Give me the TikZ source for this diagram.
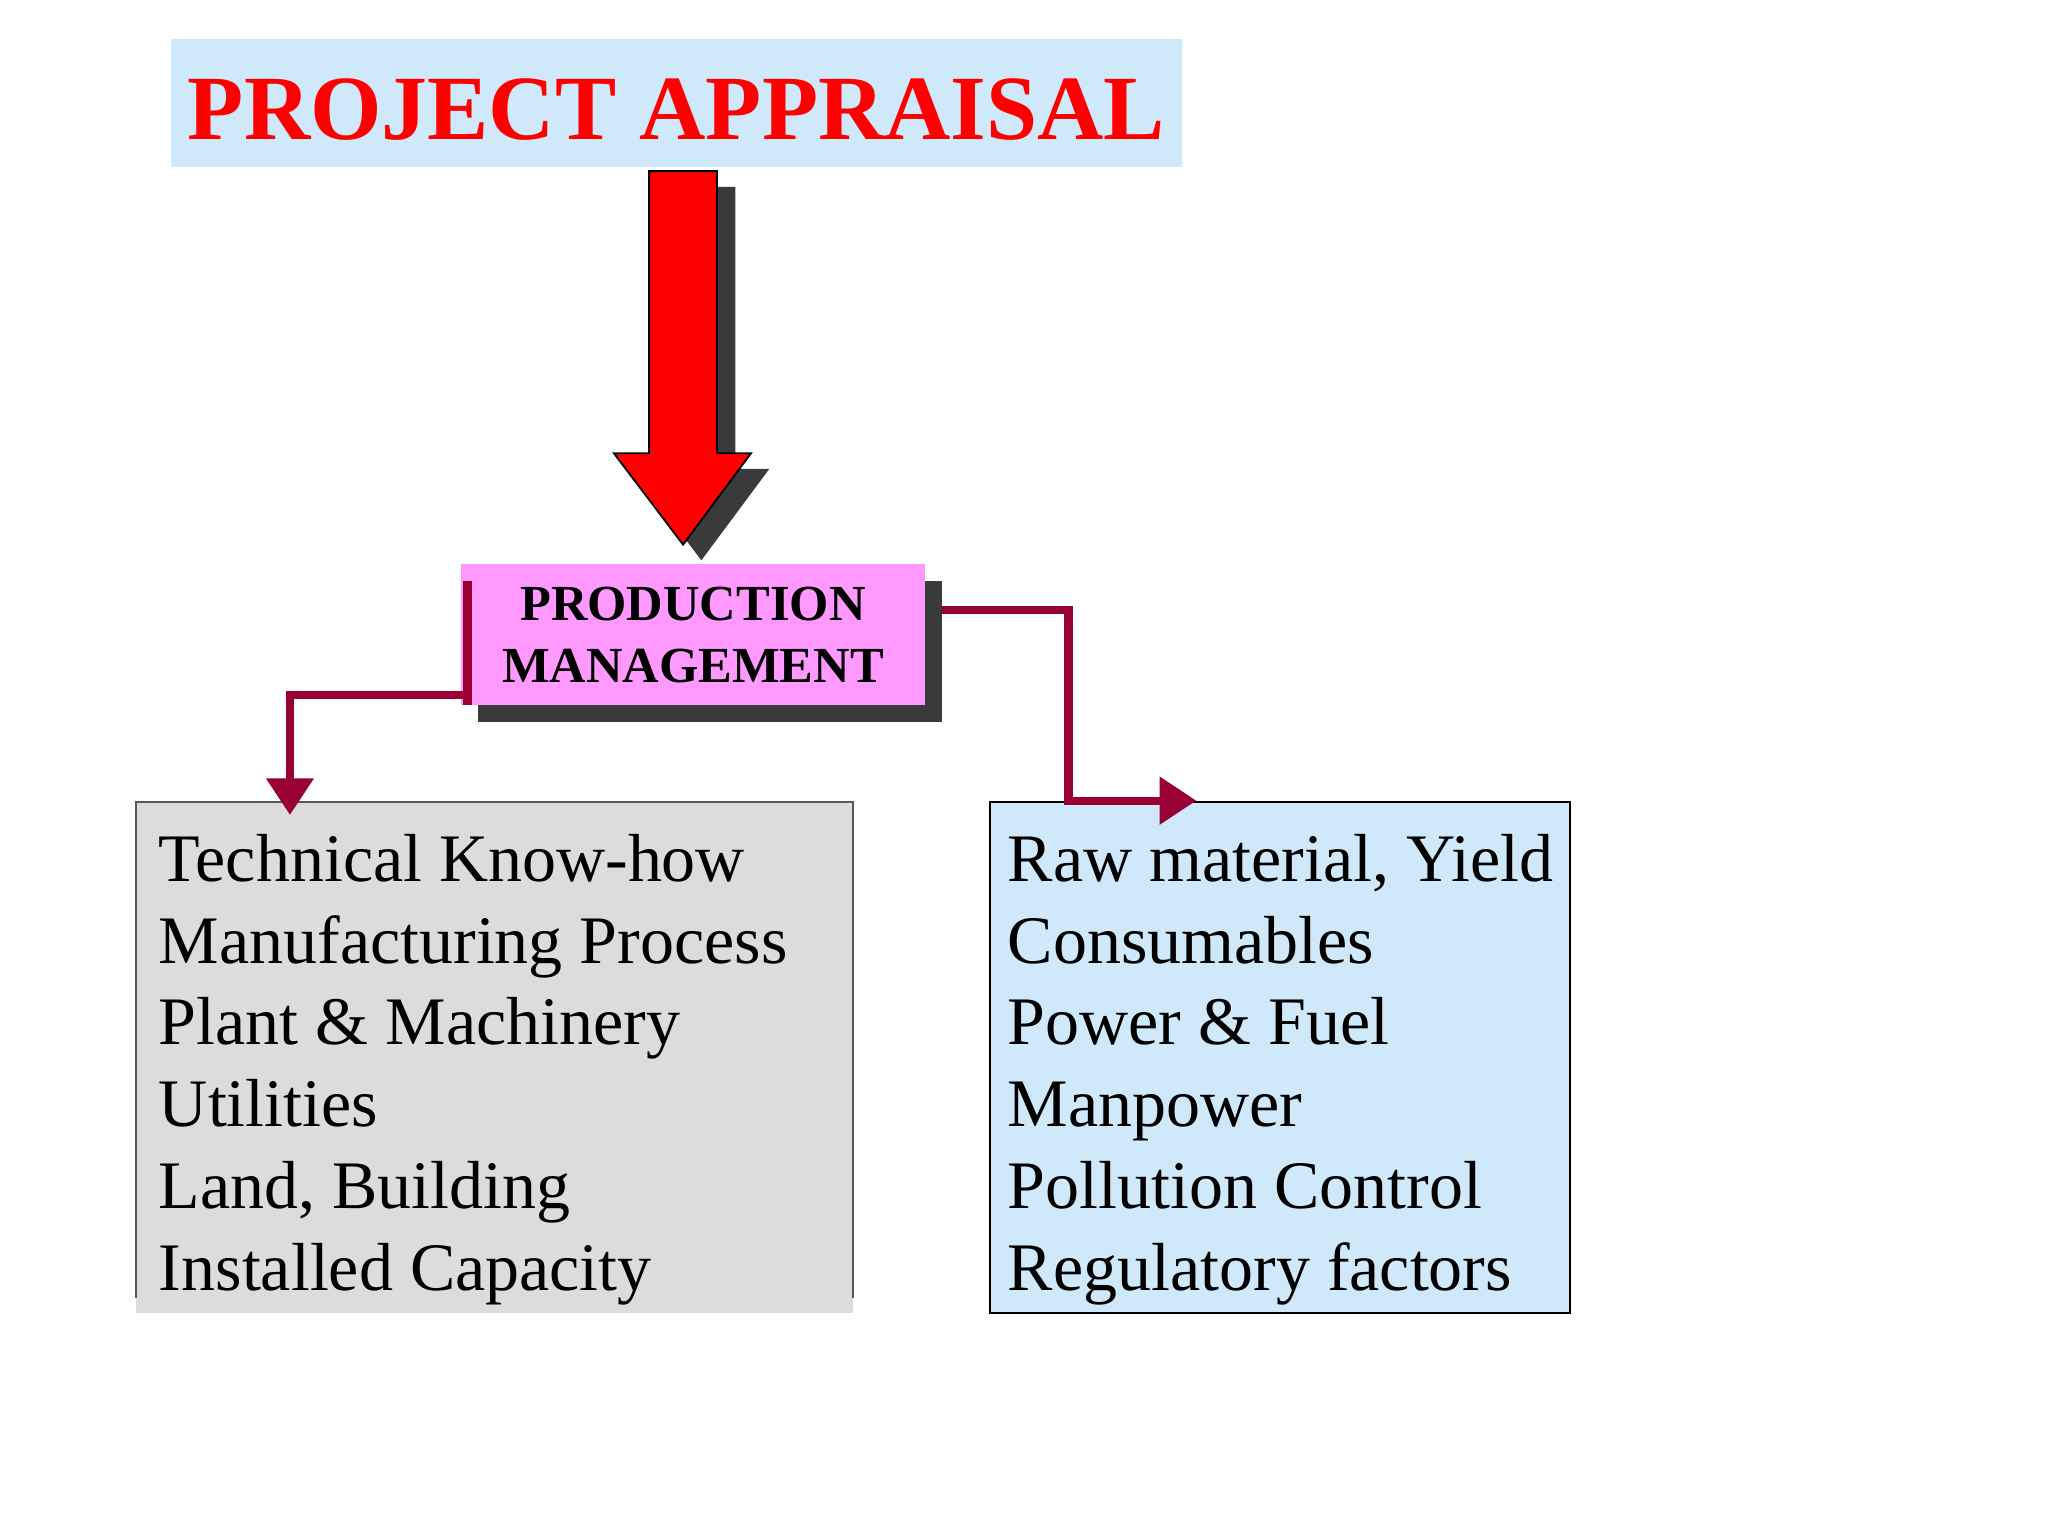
\documentclass[tikz,border=0pt]{standalone}
\usepackage{fontspec}
\setmainfont{Liberation Serif}
\usetikzlibrary{positioning,arrows.meta}
\definecolor{paleblue}{HTML}{CFE8FA}
\definecolor{pink}{HTML}{FF99FF}
\definecolor{boxgray}{HTML}{DCDBDE}
\definecolor{maroon}{HTML}{990033}
\definecolor{shadowgray}{HTML}{3A3A3A}
\tikzset{
  link/.style={maroon,line width=1.8pt,-{Triangle[length=8pt,width=10pt]}},
  listtext/.style={anchor=north west,align=left,font=\fontsize{14.8}{17.8}\selectfont,inner sep=0pt}
}
\begin{document}
\begin{tikzpicture}[x=0.01cm,y=-0.01cm]
\useasboundingbox (0,0) rectangle (1568,1176);
\fill[white](0,0)rectangle(1568,1176);
% title
\fill[paleblue](131,30)rectangle(905,128);
\node[red,font=\bfseries\fontsize{20}{23}\selectfont] (title) at (518,84) {PROJECT APPRAISAL};
% big arrow with shadow
\fill[shadowgray](511,143)--(563,143)--(563,359)--(589,359)--(537,429)--(484,359)--(511,359)--cycle;
\draw[fill=red](497,131)--(549,131)--(549,347)--(575,347)--(523,417)--(470,347)--(497,347)--cycle;
% production box
\fill[shadowgray](366,445)rectangle(721,553);
\node[fill=pink,minimum width=3.55cm,minimum height=1.08cm,align=center,
  font=\bfseries\fontsize{11}{13.5}\selectfont] (prod) at (530.5,486) {PRODUCTION\\MANAGEMENT};
\draw[maroon,line width=1.8pt](358,445)--(358,540);
% lists
\fill[boxgray](104,614)rectangle(653,1005);
\draw[gray!70!black](104,994)--(104,614)--(653,614)--(653,994);
\node (tech) at (121,638) [listtext] {Technical Know-how\\Manufacturing Process\\Plant \& Machinery\\Utilities\\Land, Building\\Installed Capacity};
\draw[fill=paleblue](758,614)rectangle(1202,1005);
\node (raw) at (771,638) [listtext] {Raw material, Yield\\Consumables\\Power \& Fuel\\Manpower\\Pollution Control\\Regulatory factors};
% connectors
\coordinate (lend) at (222,624);
\coordinate (rend) at (916,613);
\draw[link] (358,532) -- (222,532) -- (lend);
\draw[link] (721,467) -- (818,467) -- (818,613) -- (rend);
\end{tikzpicture}
\end{document}
